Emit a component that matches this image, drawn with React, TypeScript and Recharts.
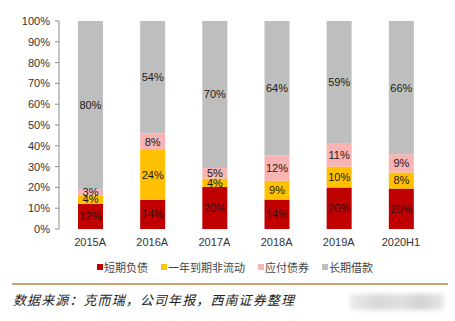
import { Bar, BarChart, LabelList, XAxis, YAxis } from "recharts";

const CATEGORIES = ["2015A", "2016A", "2017A", "2018A", "2019A", "2020H1"];
const SHORT_DEBT = [12, 14, 20, 14, 20, 20];
const CURRENT_NONCURRENT = [4, 24, 4, 9, 10, 8];
const BONDS_PAYABLE = [3, 8, 5, 12, 11, 9];
const LONG_LOANS = [80, 54, 70, 64, 59, 66];
const Y_TICKS = [0, 0.1, 0.2, 0.3, 0.4, 0.5, 0.6, 0.7, 0.8, 0.9, 1];
const BOUNDARY_TICKS = [0, 1, 2, 3, 4, 5, 6];

const SERIES = [
  { key: "short", name: "短期负债", color: "#C00000" },
  { key: "current", name: "一年到期非流动", color: "#FFC000" },
  { key: "bonds", name: "应付债券", color: "#F9B3B3" },
  { key: "long", name: "长期借款", color: "#BEBEBE" },
];

const data = CATEGORIES.map((name, i) => ({
  name,
  short: SHORT_DEBT[i],
  current: CURRENT_NONCURRENT[i],
  bonds: BONDS_PAYABLE[i],
  long: LONG_LOANS[i],
}));

const FONT = "'Liberation Sans', Arial, sans-serif";
const CJK = "'Noto Sans CJK SC', sans-serif";
const AXIS_TICK = { fontSize: 11, fill: "#333", fontFamily: FONT } as const;

export default function App() {
  return (
    <div
      style={{
        position: "absolute",
        left: 0,
        top: 0,
        width: 455,
        height: 321,
        background: "#fff",
        overflow: "hidden",
      }}
    >
      <BarChart
        width={455}
        height={321}
        data={data}
        stackOffset="expand"
        margin={{ top: 21, right: 23, bottom: 62, left: 0 }}
        style={{ fontFamily: FONT }}
      >
        <XAxis
          xAxisId="bounds"
          type="number"
          domain={[0, 6]}
          ticks={BOUNDARY_TICKS}
          tick={false}
          height={0}
          stroke="#8c8c8c"
          tickSize={4}
        />
        <XAxis
          dataKey="name"
          height={30}
          axisLine={false}
          tickLine={false}
          tickMargin={3}
          tick={AXIS_TICK}
          interval={0}
        />
        <YAxis
          width={59}
          domain={[0, 1]}
          ticks={Y_TICKS}
          tickFormatter={(v: number) => `${Math.round(v * 100)}%`}
          tick={AXIS_TICK}
          stroke="#8c8c8c"
          tickSize={4}
          tickMargin={5}
          interval={0}
        />
        {SERIES.map((s) => (
          <Bar
            key={s.key}
            dataKey={s.key}
            name={s.name}
            stackId="a"
            fill={s.color}
            barSize={25}
            isAnimationActive={false}
          >
            <LabelList
              dataKey={s.key}
              position="center"
              formatter={(v: number) => `${v}%`}
              fill="#1a1a1a"
              fontSize={11}
              fontFamily={FONT}
            />
          </Bar>
        ))}
      </BarChart>

      {/* legend */}
      <div
        style={{
          position: "absolute",
          left: 97,
          top: 259,
          display: "flex",
          alignItems: "center",
          fontFamily: CJK,
          fontSize: 11,
          color: "#444",
          whiteSpace: "nowrap",
          lineHeight: "16px",
        }}
      >
        {SERIES.map((s) => (
          <div key={s.key} style={{ display: "flex", alignItems: "center", marginRight: 13 }}>
            <span
              style={{ display: "inline-block", width: 6, height: 6, background: s.color, marginRight: 1 }}
            />
            <span>{s.name}</span>
          </div>
        ))}
      </div>

      <div
        style={{
          position: "absolute",
          left: 12,
          top: 283,
          width: 436,
          height: 2,
          background: "#C9A275",
        }}
      />

      <div
        style={{
          position: "absolute",
          left: 13,
          top: 291,
          fontFamily: CJK,
          fontSize: 13,
          fontStyle: "italic",
          letterSpacing: 1.1,
          color: "#222",
          whiteSpace: "nowrap",
          lineHeight: "18px",
        }}
      >
        数据来源：克而瑞，公司年报，西南证券整理
      </div>

      <div
        style={{
          position: "absolute",
          left: 350,
          top: 294,
          width: 94,
          height: 16,
          background: "linear-gradient(90deg, #e6e6e6, #cfcfcf 30%, #dadada 55%, #c8c8c8 75%, #e2e2e2)",
          filter: "blur(2px)",
          opacity: 0.8,
        }}
      />
    </div>
  );
}
